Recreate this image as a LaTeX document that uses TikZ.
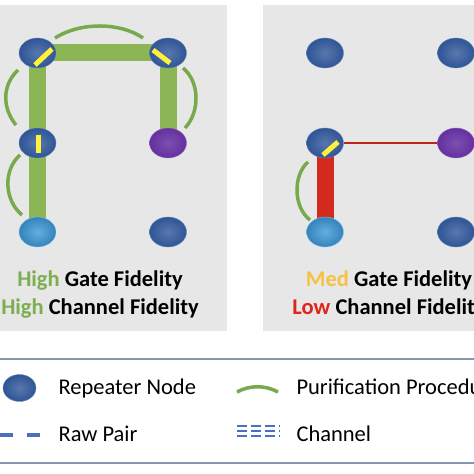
\documentclass[tikz,border=0pt]{standalone}
\usepackage{fontspec}
\setmainfont{Carlito}
\usetikzlibrary{shapes.geometric}
\pgfdeclarelayer{back}
\pgfdeclarelayer{mid}
\pgfsetlayers{back,mid,main}
\definecolor{panelgray}{HTML}{E7E7E7}
\definecolor{nodeblue}{HTML}{2F5597}
\definecolor{endpurple}{HTML}{6430A0}
\definecolor{endcyan}{HTML}{3C9ADB}
\definecolor{linkgreen}{HTML}{8CB655}
\definecolor{purifgreen}{HTML}{78A94C}
\definecolor{gateyellow}{HTML}{FFF23A}
\definecolor{linkred}{HTML}{D32A1E}
\definecolor{highgreen}{HTML}{7DAE4F}
\definecolor{medorange}{HTML}{F4C343}
\definecolor{lowred}{HTML}{E0251C}
\definecolor{keyrule}{HTML}{8497B0}
\definecolor{keyblue}{HTML}{4A6FC0}
\tikzset{
    repnode/.style={ellipse, minimum width=37pt, minimum height=30pt, inner sep=0pt,
        draw=nodeblue!70!white, line width=0.4pt, inner color=nodeblue!80!white, outer color=nodeblue},
    purplenode/.style={inner color=endpurple!85!white, outer color=endpurple, draw=endpurple!70!white},
    cyannode/.style={inner color=endcyan!80!white, outer color=endcyan!85!black, draw=endcyan!60!white},
    goodlink/.style={draw=linkgreen, line width=17pt},
    badlink/.style={draw=linkred, line width=17pt},
    rawlink/.style={draw=linkred!90!black, line width=1.1pt},
    purif/.style={draw=purifgreen, line width=3.5pt},
    gatemark/.style={draw=gateyellow, line width=5pt},
    paneltext/.style={anchor=base, font=\fontsize{22.5}{27}\selectfont\bfseries},
    keytext/.style={anchor=base west, font=\fontsize{22.5}{27}\selectfont},
    keyrule/.style={draw=keyrule, line width=1.5pt}
}
\begin{document}
\begin{tikzpicture}[x=1pt,y=1pt]
    \useasboundingbox (0,0) rectangle (474,474);
    % panels
    \begin{pgfonlayer}{back}
        \fill[panelgray] (0,143) rectangle (227,469);
        \fill[panelgray] (263,143) rectangle (530,469);
    \end{pgfonlayer}
    % left grid
    \foreach \n/\x/\y in {1/37.5/421, 2/168/421, 3/37.5/331, 6/168/242}
        \node[repnode] (a\n) at (\x,\y) {};
    \node[repnode, purplenode] (a4) at (168,331) {};
    \node[repnode, cyannode] (a5) at (37.5,242) {};
    % right grid
    \foreach \n/\x/\y in {1/325/421, 2/456/421, 3/325/331, 6/456/242}
        \node[repnode] (b\n) at (\x,\y) {};
    \node[repnode, purplenode] (b4) at (456,331) {};
    \node[repnode, cyannode] (b5) at (325,242) {};
    % links
    \begin{pgfonlayer}{mid}
        \draw[goodlink] (a5.center) -- (a3.center) -- (a1.center) -- (a2.center) -- (a4.center);
        \draw[badlink] (b3.center) -- (b5.center);
    \end{pgfonlayer}
    \draw[rawlink] (b3) -- (b4);
    % swaps
    \draw[gatemark] ([shift={(-2.5,-12)}]a1.center) -- ([shift={(14.5,4)}]a1.center);
    \draw[gatemark] ([shift={(-15,3)}]a2.center) -- ([shift={(2,-10)}]a2.center);
    \draw[gatemark] ([shift={(0.5,8)}]a3.center) -- ([shift={(0.5,-10)}]a3.center);
    \draw[gatemark] ([shift={(-2,-12)}]b3.center) -- ([shift={(13,1)}]b3.center);
    % purification
    \draw[purif] ([shift={(17.5,15)}]a1.center) .. controls +(25,16) and +(-23,16) .. ([shift={(-25,15)}]a2.center);
    \draw[purif] ([shift={(-19.5,-17)}]a1.center) .. controls +(-16,-15) and +(-14,17) .. ([shift={(-21.5,18)}]a3.center);
    \draw[purif] ([shift={(-17.5,-12)}]a3.center) .. controls +(-17,-15) and +(-18,15) .. ([shift={(-15.5,17)}]a5.center);
    \draw[purif] ([shift={(15,-15)}]a2.center) .. controls +(17,-14) and +(15,16) .. ([shift={(17,15)}]a4.center);
    \draw[purif] ([shift={(-17,-19)}]b3.center) .. controls +(-15,-13) and +(-17,13) .. ([shift={(-15,12)}]b5.center);
    % captions
    \node[paneltext] (lgate) at (100,187) {\textcolor{highgreen}{High} Gate Fidelity};
    \node[paneltext] (lchan) at (100,159) {\textcolor{highgreen}{High} Channel Fidelity};
    \node[paneltext] (rgate) at (389,187) {\textcolor{medorange}{Med} Gate Fidelity};
    \node[paneltext] (rchan) at (389,159) {\textcolor{lowred}{Low} Channel Fidelity};
    % legend
    \draw[keyrule] (0,115) -- (474,115);
    \draw[keyrule] (0,11) -- (474,11);
    \node[repnode, minimum width=33pt, minimum height=27pt] (keynode) at (19.5,86) {};
    \node[keytext] (keynodetxt) at (55,79) {Repeater Node};
    \draw[purif] (237,82) .. controls (250,89) and (265,89) .. (278,82);
    \node[keytext] (keypuriftxt) at (293,79) {Purification Procedure};
    \draw[draw=keyblue, line width=4pt, dash pattern=on 13pt off 14pt] (0,39) -- (40,39);
    \node[keytext] (keyrawtxt) at (55,32) {Raw Pair};
    \foreach \y in {48,43,38}
        \draw[draw=keyblue, line width=1.5pt, dash pattern=on 10pt off 4pt] (237,\y) -- (280,\y);
    \node[keytext] (keychantxt) at (293,32) {Channel};
\end{tikzpicture}
\end{document}
